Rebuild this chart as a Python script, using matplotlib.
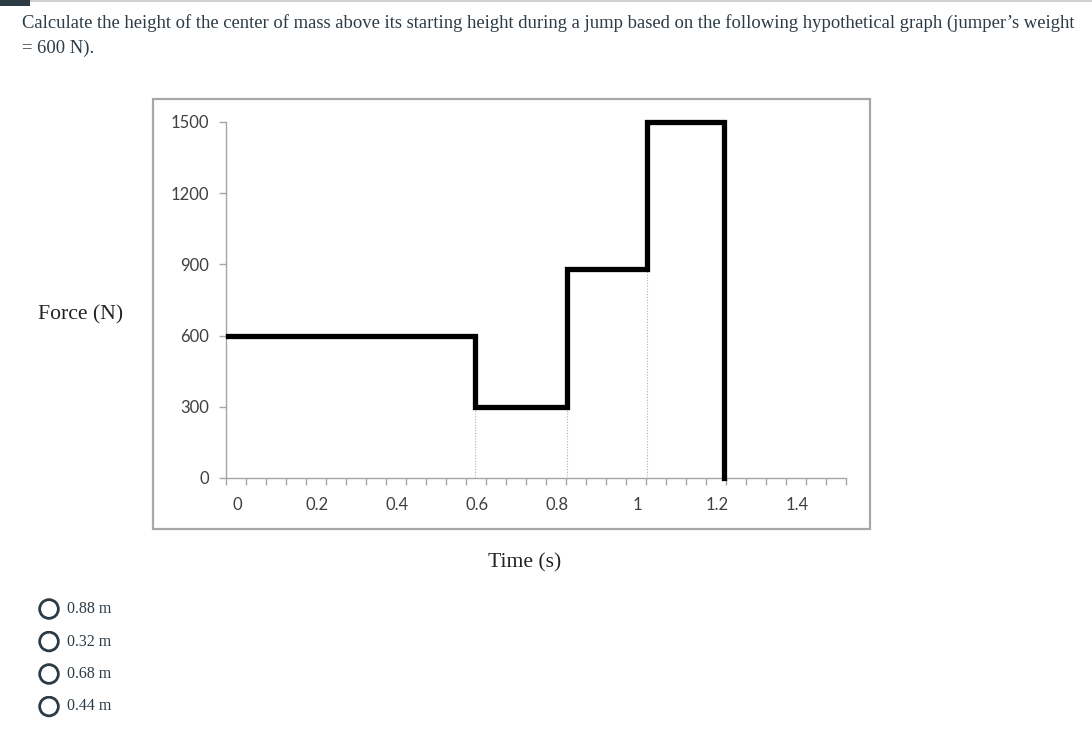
import matplotlib
matplotlib.use("Agg")
import matplotlib.pyplot as plt
from matplotlib.patches import Rectangle, Circle

W, H = 1092, 732

# ---- data ----
step_times = [-0.0225, 0.595, 0.825, 1.025, 1.2175]   # s
force_levels = [600, 300, 880, 1500]                  # N
y_ticks = [0, 300, 600, 900, 1200, 1500]
x_tick_labels = [0, 0.2, 0.4, 0.6, 0.8, 1, 1.2, 1.4]
question = ("Calculate the height of the center of mass above its starting height during a jump "
            "based on the following hypothetical graph (jumper\u2019s weight")
question2 = "= 600 N)."
choices = ["0.88 m", "0.32 m", "0.68 m", "0.44 m"]

fig = plt.figure(figsize=(W / 100, H / 100), dpi=100)

def fx(x):
    return x / W

def fy(y):
    return 1 - y / H

serif = "Liberation Serif"
sans = "Lato"

# top decorations
fig.add_artist(Rectangle((0, fy(2)), 1, 2 / H, transform=fig.transFigure,
                         facecolor="#d0d0d0", edgecolor="none"))
fig.add_artist(Rectangle((0, fy(6)), fx(30), 6 / H, transform=fig.transFigure,
                         facecolor="#2d3b45", edgecolor="none"))

# question text
fig.text(fx(22), fy(28), question, fontsize=13.4, family=serif, color="#2d3b45", va="baseline")
fig.text(fx(22), fy(53), question2, fontsize=13.4, family=serif, color="#2d3b45", va="baseline")

# chart frame
fig.add_artist(Rectangle((fx(153), fy(529)), fx(870 - 153), (529 - 99) / H,
                         transform=fig.transFigure, facecolor="none",
                         edgecolor="#a8a8a8", linewidth=1.6, zorder=-1))

# axes
x_min, x_max = -0.0275, 1.5225
ax = fig.add_axes([fx(226), fy(478), fx(846 - 226), (478 - 122) / H])
ax.set_xlim(x_min, x_max)
ax.set_ylim(0, 1500)
ax.patch.set_alpha(0)
for s in ["top", "right"]:
    ax.spines[s].set_visible(False)
for s in ["left", "bottom"]:
    ax.spines[s].set_color("#a6a6a6")
    ax.spines[s].set_linewidth(1.0)
ax.spines["left"].set_bounds(0, 1500)

ax.set_yticks(y_ticks)
ax.set_yticklabels([str(v) for v in y_ticks], family=sans, fontsize=12, color="#404040")
ax.tick_params(axis="y", direction="out", length=5, width=1, color="#a6a6a6", pad=7)

minor = [x_min + 0.05 * k for k in range(32)]
ax.set_xticks(minor)
ax.set_xticklabels([])
ax.tick_params(axis="x", direction="out", length=5, width=1, color="#a6a6a6")
for v in x_tick_labels:
    ax.text(v, -0.077, f"{v:g}", transform=ax.get_xaxis_transform(), ha="center", va="center",
            family=sans, fontsize=12, color="#404040")

# dotted guide lines
guide_tops = [force_levels[1], force_levels[1], force_levels[2]]
for t, top in zip(step_times[1:4], guide_tops):
    ax.plot([t, t], [0, top], color="#b0b0b0", lw=0.8, ls=(0, (1, 1.5)), zorder=1)

# step line
xs, ys = [], []
for i, f in enumerate(force_levels):
    xs += [step_times[i], step_times[i + 1]]
    ys += [f, f]
xs.append(step_times[-1])
ys.append(0)
ax.plot(xs, ys, color="black", lw=3.8, solid_joinstyle="miter", zorder=3, clip_on=False)

# axis titles
fig.text(fx(81), fy(315), "Force (N)", family=serif, fontsize=15.6, color="#222222",
         ha="center", va="center")
fig.text(fx(525), fy(563), "Time (s)", family=serif, fontsize=15.6, color="#222222",
         ha="center", va="center")

# answer choices
for i, c in enumerate(choices):
    yc = 609 + 32.5 * i
    fig.text(fx(67), fy(yc), c, family=serif, fontsize=11.5, color="#2d3b45", va="center")
    ax_c = fig.add_axes([fx(49 - 11), fy(yc + 11), fx(22), 22 / H])
    ax_c.set_xlim(-1, 1)
    ax_c.set_ylim(-1, 1)
    ax_c.set_aspect("equal")
    ax_c.axis("off")
    ax_c.add_patch(Circle((0, 0), 0.85, facecolor="white", edgecolor="#2d3b45", linewidth=2))

fig.savefig("out.png", dpi=100)
